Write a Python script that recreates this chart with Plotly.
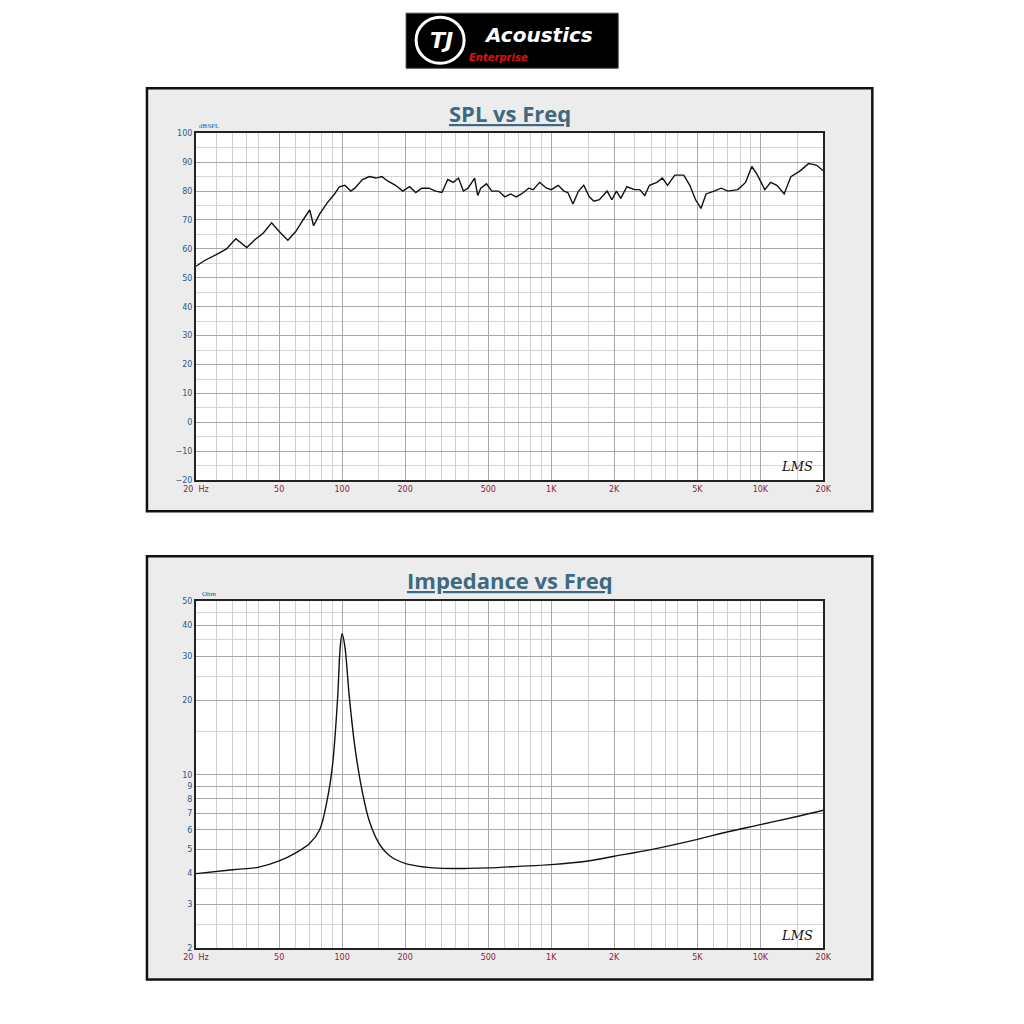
import plotly.graph_objects as go
import numpy as np

spl_freq = [20,22,25,28,31,33,35,38,42,46,50,55,60,65,70,73,78,85,92,97,103,110,115,125,135,145,155,165,180,195,210,225,240,260,280,300,320,340,360,380,400,430,445,460,490,520,560,600,640,680,720,780,820,880,950,1000,1080,1150,1200,1270,1350,1430,1520,1600,1700,1850,1950,2050,2150,2300,2500,2650,2800,2950,3200,3400,3600,3900,4300,4600,4900,5200,5500,6000,6500,7000,7800,8500,9100,9600,10500,11200,12000,13000,14000,15500,17000,18500,20000]
spl_db = [54,56,58,60,63.5,62,60.5,63,65.5,69,66,63,66,70,73.5,68,72,76,79,81.5,82,80,81,84,85,84.5,85,83.5,82,80,81.5,79.5,81,81,80,79.5,84,83,84.5,80,81,84.5,78.5,81,82.5,80,80,78,79,78,79,81,80.5,83,81,80.5,82,80,79.5,75.5,80,82,78,76.5,77,80,77,80,77.5,81.5,80.5,80.5,78.5,82,83,84.5,82,85.5,85.5,82,77,74,79,80,81,80,80.5,83,88.5,86,80.5,83,82,79,85,87,89.5,89,87]

imp_freq = [20,30,40,50,60,70,78,85,90,95,98,100,103,108,115,125,135,150,170,200,250,300,400,500,700,1000,1500,2000,3000,5000,7000,10000,15000,20000]
imp_ohm = [4.0,4.15,4.25,4.5,4.85,5.3,6,8,11,20,33,37,33,21,13,8.5,6.5,5.3,4.7,4.4,4.25,4.2,4.2,4.22,4.28,4.35,4.5,4.7,5.0,5.5,5.9,6.3,6.8,7.2]

x_tickvals = [20,50,100,200,500,1000,2000,5000,10000,20000]
x_ticktext = ["20  Hz","50","100","200","500","1K","2K","5K","10K","20K"]
spl_ticks = list(range(-20,101,10))
imp_ticks = [2,3,4,5,6,7,8,9,10,20,30,40,50]

W = 1024
AX, BX = 0.979, 21.1
AY, BY = 0.991, 11.8
def px(v): return ((v - BX) / AX) / W
def py(v): return 1 - ((v - BY) / AY) / W

fig = go.Figure()
fig.add_trace(go.Scatter(x=spl_freq, y=spl_db, mode="lines", line=dict(color="#111", width=1.4), xaxis="x", yaxis="y", showlegend=False))
fig.add_trace(go.Scatter(x=imp_freq, y=imp_ohm, mode="lines", line=dict(color="#111", width=1.4, shape="spline"), xaxis="x2", yaxis="y2", showlegend=False))

xdom = [px(196), px(823)]
xcommon = dict(type="log", range=[np.log10(20), np.log10(20000)], tickvals=x_tickvals, ticktext=x_ticktext,
               tickfont=dict(family="Verdana, DejaVu Sans", size=8, color="#8b1a4a"),
               showgrid=True, gridcolor="#a8a8a8", gridwidth=1, showline=True, linecolor="#222", linewidth=2,
               mirror=True, ticks="", zeroline=False,
               minor=dict(tickvals=[f*m for f in (10,100,1000,10000) for m in (1.5,2,2.5,3,3.5,4,5,6,7,8,9) if 20 < f*m < 20000], showgrid=True, gridcolor="#cfcfcf", gridwidth=1))
spl_dom = [py(480), py(133)]
imp_dom = [py(948), py(601)]
fig.update_layout(
    width=1024, height=1024, margin=dict(l=0, r=0, t=0, b=0),
    paper_bgcolor="white", plot_bgcolor="rgba(0,0,0,0)",
    xaxis=dict(domain=xdom, anchor="y", **xcommon),
    yaxis=dict(domain=spl_dom, range=[-20,100], tickvals=spl_ticks, anchor="x",
               tickfont=dict(family="Verdana, DejaVu Sans", size=8, color="#2a5a8a"),
               showgrid=True, gridcolor="#a8a8a8", showline=True, linecolor="#222", linewidth=2, mirror=True, zeroline=False,
               minor=dict(tickvals=list(range(-15,100,10)), showgrid=True, gridcolor="#d5d5d5")),
    xaxis2=dict(domain=xdom, anchor="y2", **xcommon),
    yaxis2=dict(domain=imp_dom, type="log", range=[np.log10(2), np.log10(50)], tickvals=imp_ticks, anchor="x2",
                tickfont=dict(family="Verdana, DejaVu Sans", size=8, color="#2a5a8a"),
                showgrid=True, gridcolor="#a8a8a8", showline=True, linecolor="#222", linewidth=2, mirror=True, zeroline=False,
                minor=dict(tickvals=[2.5,3.5,15,25,35,45], showgrid=True, gridcolor="#d5d5d5")),
)

shapes = []
for (y0, y1) in [(88, 511), (556, 979)]:
    shapes.append(dict(type="rect", xref="paper", yref="paper", x0=px(147), x1=px(872), y0=py(y1), y1=py(y0),
                       fillcolor="#ececec", line=dict(color="#111", width=2.5), layer="below"))
for dom in (spl_dom, imp_dom):
    shapes.append(dict(type="rect", xref="paper", yref="paper", x0=xdom[0], x1=xdom[1], y0=dom[0], y1=dom[1],
                       fillcolor="white", line=dict(width=0), layer="below"))
shapes.append(dict(type="rect", xref="paper", yref="paper", x0=px(406), x1=px(618), y0=py(68), y1=py(13),
                   fillcolor="black", line=dict(color="#444", width=1)))
shapes.append(dict(type="circle", xref="paper", yref="paper", x0=px(416), x1=px(464), y0=py(63), y1=py(17),
                   fillcolor="rgba(0,0,0,0)", line=dict(color="white", width=3)))
fig.update_layout(shapes=shapes)

ann = [
    dict(text="<b><u>SPL vs Freq</u></b>", x=px(510), y=py(113), font=dict(family="Open Sans", size=22, color="#3d6a80")),
    dict(text="<b><u>Impedance vs Freq</u></b>", x=px(510), y=py(580), font=dict(family="Open Sans", size=22, color="#3d6a80")),
    dict(text="dBSPL", x=px(197), y=py(126), xanchor="left", font=dict(family="Verdana", size=7, color="#2a5a8a")),
    dict(text="Ohm", x=px(200), y=py(594), xanchor="left", font=dict(family="Verdana", size=7, color="#2a5a8a")),
    dict(text="<i>LMS</i>", x=px(815), y=py(466), xanchor="right", font=dict(family="DejaVu Serif", size=13, color="#111")),
    dict(text="<i>LMS</i>", x=px(815), y=py(935), xanchor="right", font=dict(family="DejaVu Serif", size=13, color="#111")),
    dict(text="<b><i>TJ</i></b>", x=px(441), y=py(40), font=dict(family="DejaVu Sans", size=22, color="white")),
    dict(text="<b><i>Acoustics</i></b>", x=px(538), y=py(35), font=dict(family="DejaVu Sans", size=20, color="white")),
    dict(text="<b><i>Enterprise</i></b>", x=px(498), y=py(57), font=dict(family="DejaVu Sans", size=10, color="#e01010")),
]
for a in ann:
    a.update(xref="paper", yref="paper", showarrow=False, yanchor="middle")
    a.setdefault("xanchor", "center")
fig.update_layout(annotations=ann)

fig.write_html("out.html")
